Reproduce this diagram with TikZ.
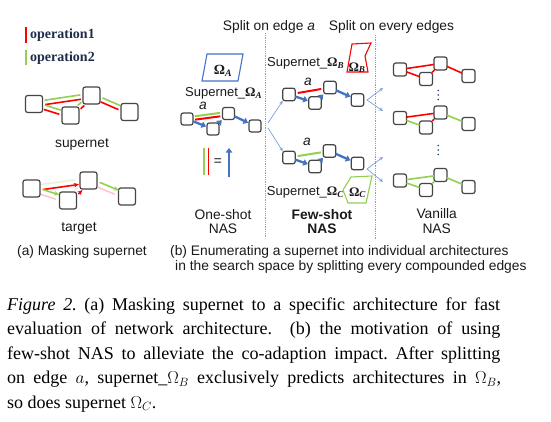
\documentclass[tikz,border=0pt]{standalone}
\usepackage{fontspec}
\setmainfont{Liberation Serif}
\setsansfont{Liberation Sans}
\usetikzlibrary{calc,arrows.meta}
\definecolor{opred}{HTML}{FF0000}
\definecolor{opgreen}{HTML}{92D050}
\definecolor{nblue}{HTML}{4472C4}
\definecolor{lblue}{HTML}{7F9FD8}
\definecolor{bxgray}{HTML}{454545}
\definecolor{txt}{HTML}{1A1A1A}
\definecolor{optxt}{HTML}{1F2D4A}
\newcommand{\Omg}[1]{{\rmfamily\bfseries Ω\textsubscript{\itshape #1}}}
\newcommand{\paredge}[5][]{\draw[#4,#1] ($(#2)!#5!90:(#3)$) -- ($(#3)!#5!-90:(#2)$);}
\begin{document}
\begin{tikzpicture}[x=1pt,y=-1pt,
  bx/.style={draw=bxgray, line width=1.2pt, rounded corners=2.3pt, fill=white, minimum size=#1, inner sep=0pt, outer sep=0pt},
  bx/.default=13pt,
  lbl/.style={font=\sffamily\fontsize{13.8}{16}\selectfont, text=txt, inner sep=0pt},
  slbl/.style={font=\sffamily\fontsize{13}{15}\selectfont, text=txt, inner sep=0pt, anchor=base west},
  blbl/.style={font=\sffamily\bfseries\fontsize{13.8}{16}\selectfont, text=txt, inner sep=0pt},
  elbl/.style={font=\sffamily\itshape\fontsize{13.8}{16}\selectfont, text=txt, inner sep=0pt},
  oplbl/.style={font=\rmfamily\bfseries\fontsize{14}{16}\selectfont, text=optxt, inner sep=0pt, anchor=base west},
  capline/.style={font=\rmfamily\fontsize{18}{24}\selectfont\frenchspacing, text=black, inner sep=0pt, anchor=base west},
  barrow/.style={nblue, line width=2.3pt, -{Triangle[length=4.5pt,width=6.5pt]}, shorten >=1pt},
  thinarrow/.style={lblue, line width=0.7pt, -{Stealth[length=4pt,width=3.5pt]}},
  redl/.style={opred, line width=1.6pt},
  greenl/.style={opgreen, line width=1.6pt},
  faint/.style={opacity=0.22},
  tarrow/.style={-{Stealth[length=5pt,width=4.5pt]}},
  vline/.style={lblue, line width=0.8pt, densely dotted},
  dotfill/.style={fill=nblue!60!black}
]
\useasboundingbox[fill=white] (0,0) rectangle (551,421);

% ---------- legend ----------
\draw[opred, line width=1.6pt] (26,27) -- (26,43);
\node[oplbl] (op1) at (30,38.5) {operation1};
\draw[opgreen, line width=1.6pt] (26,50) -- (26,65);
\node[oplbl] (op2) at (30,61.5) {operation2};

% ---------- (a) supernet ----------
\node[bx=17pt] (a1) at (34,104) {};
\node[bx=17pt] (a2) at (91.5,95.5) {};
\node[bx=17pt] (a3) at (70.5,115.5) {};
\node[bx=17pt] (a4) at (129.5,112) {};
\paredge[shorten <=11pt, shorten >=11pt]{a1}{a2}{greenl}{2.2pt}
\paredge[shorten <=11pt, shorten >=11pt]{a1}{a2}{redl}{-2.2pt}
\paredge[shorten <=11pt, shorten >=11pt]{a1}{a3}{greenl}{2.2pt}
\paredge[shorten <=11pt, shorten >=11pt]{a1}{a3}{redl}{-2.2pt}
\paredge[shorten <=12pt, shorten >=12pt]{a3}{a2}{greenl}{2.2pt}
\paredge[shorten <=12pt, shorten >=12pt]{a3}{a2}{redl}{-2.2pt}
\paredge[shorten <=11pt, shorten >=11pt]{a2}{a4}{greenl}{2.2pt}
\paredge[shorten <=11pt, shorten >=11pt]{a2}{a4}{redl}{-2.2pt}
\node[lbl, anchor=base] (lsup) at (82,147) {supernet};

% ---------- (a) target ----------
\node[bx=17pt] (t1) at (31.5,188.5) {};
\node[bx=17pt] (t2) at (88.5,180.5) {};
\node[bx=17pt] (t3) at (68,200.5) {};
\node[bx=17pt] (t4) at (127,196.5) {};
\paredge[shorten <=10pt, shorten >=13pt, faint]{t1}{t2}{greenl}{2.6pt}
\paredge[shorten <=11pt, shorten >=10pt, tarrow]{t1}{t2}{redl}{-2.6pt}
\paredge[shorten <=11pt, shorten >=10pt, tarrow]{t1}{t3}{greenl}{2.6pt}
\paredge[shorten <=10pt, shorten >=12pt, faint]{t1}{t3}{redl}{-2.6pt}
\paredge[shorten <=12pt, shorten >=12pt, faint]{t3}{t2}{greenl}{2.6pt}
\paredge[shorten <=12pt, shorten >=11pt, tarrow]{t3}{t2}{redl}{-2.6pt}
\paredge[shorten <=11pt, shorten >=10pt, tarrow]{t2}{t4}{greenl}{2.6pt}
\paredge[shorten <=11pt, shorten >=12pt, faint]{t2}{t4}{redl}{-2.6pt}
\node[lbl, anchor=base] (ltar) at (79,231.5) {target};
\node[lbl, anchor=base west] (capa) at (17,255) {(a) Masking supernet};

% ---------- headers and separators ----------
\node[lbl, anchor=base] (hsplit1) at (269,30.5) {Split on edge \textit{a}};
\node[lbl, anchor=base] (hsplit2) at (391.5,30.5) {Split on every edges};
\coordinate (s1t) at (265.7,33);
\coordinate (s1b) at (265.7,237);
\coordinate (s2t) at (375,35);
\coordinate (s2b) at (375,240);
\draw[vline] (s1t) -- (s1b);
\draw[vline] (s2t) -- (s2b);

% ---------- one-shot ----------
\draw[nblue, line width=1.1pt] (207,54) -- (243,54) -- (238,81) -- (202,81) -- cycle;
\node[inner sep=0pt, anchor=base, font=\fontsize{14}{16}\selectfont, text=txt] (omA) at (223,74) {\Omg{A}};
\node[slbl] (supA) at (185,96.5) {Supernet\_\Omg{A}};
\node[bx=12pt] (o1) at (187,119) {};
\node[bx=12pt] (o2) at (228.5,113.5) {};
\node[bx=12pt] (o3) at (213,129) {};
\node[bx=12pt] (o4) at (255,126) {};
\paredge[shorten <=8pt, shorten >=8.5pt, line width=2pt]{o1}{o2}{greenl}{1.7pt}
\paredge[shorten <=8pt, shorten >=8.5pt, line width=2pt]{o1}{o2}{redl}{-1.7pt}
\node[elbl] (oa) at (203,105.5) {a};
\draw[barrow] (o1) -- (o3);
\draw[barrow] (o3) -- (o2);
\draw[barrow] (o2) -- (o4);
% legend  || = arrow
\draw[greenl, line width=1.5pt] (204,148) -- (204,175);
\draw[redl, line width=1.5pt] (208.7,148) -- (208.7,175);
\node[lbl] (eq) at (218,162) {=};
\coordinate (upb) at (229,177);
\coordinate (upt) at (229,148);
\draw[barrow, shorten >=0pt] (upb) -- (upt);
\node[lbl, anchor=base] (os1) at (223,219) {One-shot};
\node[lbl, anchor=base] (os2) at (223,233) {NAS};

% ---------- few-shot top ----------
\node[bx=12.5pt] (b1) at (289,94.5) {};
\node[bx=12.5pt] (b2) at (330,87.5) {};
\node[bx=12.5pt] (b3) at (315,103) {};
\node[bx=12.5pt] (b4) at (357.5,100) {};
\draw[redl, line width=2pt, shorten <=2.5pt, shorten >=2.5pt] (b1) -- (b2);
\node[elbl] (ba) at (308,82) {a};
\draw[barrow] (b1) -- (b3);
\draw[barrow] (b3) -- (b2);
\draw[barrow] (b2) -- (b4);
\node[slbl] (supB) at (267,66.5) {Supernet\_\Omg{B}};
\draw[opred, line width=1.1pt] (347,72) -- (352,44) -- (371,43) -- (365,56) -- (368,72) -- cycle;
\node[inner sep=0pt, anchor=base, font=\fontsize{13}{15}\selectfont, text=txt] (omB) at (357,71) {\Omg{B}};

% ---------- few-shot bottom ----------
\node[bx=12.5pt] (c1) at (289,157.5) {};
\node[bx=12.5pt] (c2) at (329.5,151) {};
\node[bx=12.5pt] (c3) at (315,166.5) {};
\node[bx=12.5pt] (c4) at (357.5,163.5) {};
\draw[greenl, line width=2pt, shorten <=2.5pt, shorten >=2.5pt] (c1) -- (c2);
\node[elbl] (ca) at (307,142) {a};
\draw[barrow] (c1) -- (c3);
\draw[barrow] (c3) -- (c2);
\draw[barrow] (c2) -- (c4);
\node[slbl] (supC) at (266.7,195.3) {Supernet\_\Omg{C}};
\draw[opgreen, line width=1.1pt] (343,190) -- (351,177) -- (372,176) -- (366,203) -- (348,203) -- cycle;
\node[inner sep=0pt, anchor=base, font=\fontsize{13}{15}\selectfont, text=txt] (omC) at (357.5,196) {\Omg{C}};
\node[blbl, anchor=base] (fs1) at (322,219) {Few-shot};
\node[blbl, anchor=base] (fs2) at (322,233) {NAS};

% ---------- one-shot -> few-shot ----------
\coordinate (f1) at (268,123);
\draw[thinarrow] (f1) -- (b1.south west);
\coordinate (f2) at (268,128);
\draw[thinarrow] (f2) -- (c1.north west);

% ---------- few-shot -> vanilla ----------
\coordinate (g1) at (367,100);
\coordinate (g1a) at (383,88);
\coordinate (g1b) at (383,111);
\draw[thinarrow] (g1) -- (g1a);
\draw[thinarrow] (g1) -- (g1b);
\coordinate (g2) at (367,169);
\coordinate (g2a) at (383,157);
\coordinate (g2b) at (383,182);
\draw[thinarrow] (g2) -- (g2a);
\draw[thinarrow] (g2) -- (g2b);

% ---------- vanilla ----------
\node[bx] (p1) at (400,69.5) {};
\node[bx] (p2) at (440.5,63.5) {};
\node[bx] (p3) at (426,79) {};
\node[bx] (p4) at (468.5,76) {};
\draw[redl] (p1) -- (p2);
\draw[redl] (p1) -- (p3);
\draw[redl] (p3) -- (p2);
\draw[redl] (p2) -- (p4);

\fill[dotfill] (438.3,90.5) circle (0.9);
\fill[dotfill] (438.3,95) circle (0.9);
\fill[dotfill] (438.3,99.5) circle (0.9);

\node[bx] (q1) at (400,118) {};
\node[bx] (q2) at (440.5,112.5) {};
\node[bx] (q3) at (426,127.5) {};
\node[bx] (q4) at (468.5,124) {};
\draw[redl] (q1) -- (q2);
\draw[greenl] (q1) -- (q3);
\draw[redl] (q3) -- (q2);
\draw[greenl] (q2) -- (q4);

\fill[dotfill] (438.3,145.5) circle (0.9);
\fill[dotfill] (438.3,150) circle (0.9);
\fill[dotfill] (438.3,154.5) circle (0.9);

\node[bx] (r1) at (400,180.5) {};
\node[bx] (r2) at (440.5,175) {};
\node[bx] (r3) at (426,190) {};
\node[bx] (r4) at (468.5,187) {};
\draw[greenl] (r1) -- (r2);
\draw[greenl] (r1) -- (r3);
\draw[greenl] (r3) -- (r2);
\draw[greenl] (r2) -- (r4);

\node[lbl, anchor=base] (vn1) at (436.7,218.5) {Vanilla};
\node[lbl, anchor=base] (vn2) at (436.7,233) {NAS};

% ---------- (b) caption ----------
\node[lbl, anchor=base west] (capb1) at (170,255) {(b) Enumerating a supernet into individual architectures};
\node[lbl, anchor=base west] (capb2) at (175,270) {in the search space by splitting every compounded edges};

% ---------- figure caption ----------
\node[capline] (c1l) at (7,310) {\makebox[493pt][s]{\textit{Figure 2.} (a) Masking supernet to a specific architecture for fast}};
\node[capline] (c2l) at (7,334.5) {\makebox[493pt][s]{evaluation of network architecture.\ \ (b) the motivation of using}};
\node[capline] (c3l) at (7,359) {\makebox[493pt][s]{few-shot NAS to alleviate the co-adaption impact. After splitting}};
\node[capline] (c4l) at (7,383.5) {\makebox[494pt][s]{on edge $a$, supernet\_$\Omega_B$ exclusively predicts architectures in $\Omega_B$,}};
\node[capline] (c5l) at (7,408) {so does supernet $\Omega_C$.};
\end{tikzpicture}
\end{document}
